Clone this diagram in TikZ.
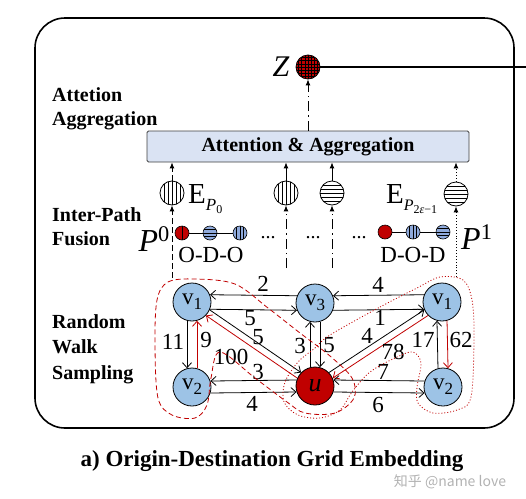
\documentclass[tikz,border=0pt]{standalone}
\usepackage{fontspec}
\setmainfont{Liberation Serif}
\newfontfamily\cjk{Noto Sans CJK SC}
\usetikzlibrary{arrows.meta,calc}
\definecolor{nodeblue}{HTML}{9DC3E6}
\definecolor{pathblue}{HTML}{8FAADC}
\definecolor{darkred}{HTML}{C00000}
\definecolor{boxfill}{HTML}{DAE3F3}
\definecolor{boxline}{HTML}{404040}
\newcommand{\fs}[1]{\fontsize{#1}{#1}\selectfont}
\tikzset{
  gnode/.style={circle,draw=black,line width=0.8pt,fill=nodeblue,minimum size=38pt,inner sep=0pt,font=\fs{23}},
  unode/.style={gnode,fill=darkred},
  vstripes/.style={path picture={\foreach \k in {-2,...,2}{\draw[line width=0.6pt] ([xshift=\k*4pt]path picture bounding box.north) -- ([xshift=\k*4pt]path picture bounding box.south);}}},
  hstripes/.style={path picture={\foreach \k in {-2,...,2}{\draw[line width=0.6pt] ([yshift=\k*4pt]path picture bounding box.west) -- ([yshift=\k*4pt]path picture bounding box.east);}}},
  svstripes/.style={path picture={\foreach \k in {-1,0,1}{\draw[line width=0.5pt] ([xshift=\k*3.5pt]path picture bounding box.north) -- ([xshift=\k*3.5pt]path picture bounding box.south);}}},
  shstripes/.style={path picture={\foreach \k in {-1,0,1}{\draw[line width=0.5pt] ([yshift=\k*3.5pt]path picture bounding box.west) -- ([yshift=\k*3.5pt]path picture bounding box.east);}}},
  gridfill/.style={path picture={\foreach \k in {-3,...,3}{\draw[line width=0.4pt] ([xshift=\k*3.2pt]path picture bounding box.north) -- ([xshift=\k*3.2pt]path picture bounding box.south); \draw[line width=0.4pt] ([yshift=\k*3.2pt]path picture bounding box.west) -- ([yshift=\k*3.2pt]path picture bounding box.east);}}},
  emb/.style={circle,draw=black,line width=0.8pt,fill=white,minimum size=24pt,inner sep=0pt},
  pnode/.style={circle,draw=black,line width=0.6pt,minimum size=14pt,inner sep=0pt},
  edge/.style={line width=0.8pt,-{Straight Barb[length=5pt,width=9pt]}},
  redge/.style={edge,draw=darkred},
  elabel/.style={font=\fs{23},inner sep=0pt},
  upar/.style={line width=0.9pt,-{Latex[length=6pt,width=5pt]}},
  sidelabel/.style={anchor=base west,inner sep=0pt,font=\bfseries\fs{20}},
  dashdot/.style={dash pattern=on 10pt off 4pt on 1.5pt off 4pt},
  longdash/.style={dash pattern=on 6pt off 3pt},
  fine dots/.style={dash pattern=on 1pt off 2pt},
}
\begin{document}
\begin{tikzpicture}[x=1pt,y=-1pt]
\useasboundingbox (0,0) rectangle (526,498);
% outer frame
\draw[line width=1.6pt,rounded corners=30pt] (35,18) rectangle (514,428);

% side labels
\node[sidelabel] (l1) at (52,101.5) {Attetion};
\node[sidelabel] (l2) at (52,125) {Aggregation};
\node[sidelabel] (l3) at (52,221.5) {Inter-Path};
\node[sidelabel] (l4) at (52,245.5) {Fusion};
\node[sidelabel] (l5) at (52,328.5) {Random};
\node[sidelabel] (l6) at (52,353.5) {Walk};
\node[sidelabel] (l7) at (52,379.5) {Sampling};

% attention box
\node[draw=boxline,fill=boxfill,line width=0.8pt,rounded corners=1.5pt,minimum width=322pt,minimum height=31pt,inner sep=0pt,font=\bfseries\fs{20}] (att) at (308,146.5) {Attention \& Aggregation};

% Z output
\node[circle,draw=black,line width=0.8pt,fill=darkred,minimum size=24pt,inner sep=0pt,gridfill] (z) at (308,67) {};
\node[font=\itshape\fs{30},inner sep=0pt] (zl) at (281,67) {Z};
\coordinate (zend) at (526,67);
\draw[line width=1.5pt] (z.east) -- (zend);
\draw[upar,dashdot] (att.north -| z) -- (z.south);

% embedding circles
\node[emb,vstripes] (e1) at (172,193) {};
\node[emb,vstripes] (e2) at (286,193) {};
\node[emb,hstripes] (e3) at (332,193) {};
\node[emb,hstripes] (e4) at (456,194) {};
\node[anchor=base west,inner sep=0pt,font=\fs{29}] (el1) at (188,203) {E\raisebox{-7pt}{\fs{17}\textit{P}\raisebox{-3pt}{\fs{12}0}}};
\node[anchor=base west,inner sep=0pt,font=\fs{29}] (el2) at (386,203) {E\raisebox{-7pt}{\fs{16}\textit{P}\raisebox{-3pt}{\fs{12}2\textit{ε}−1}}};

% arrows into attention box
\draw[upar,longdash] (e1.north) -- (e1.north |- att.south);
\draw[upar] (e2.north) -- (e2.north |- att.south);
\draw[upar] (e3.north) -- (e3.north |- att.south);
\draw[upar,dotted] (e4.north) -- (e4.north |- att.south);

% arrows into embedding circles
\coordinate (s1) at (172,278);
\coordinate (s2) at (286,268);
\coordinate (s3) at (332,268);
\coordinate (s4) at (456,277);
\draw[upar,longdash] (s1) -- (e1.south);
\draw[upar,dashdot] (s2) -- (e2.south);
\draw[upar,dashdot] (s3) -- (e3.south);
\draw[upar,dotted] (s4) -- (e4.south);

% path P0
\node[pnode,fill=darkred,path picture={\draw[line width=0.5pt] (path picture bounding box.north) -- (path picture bounding box.south);}] (a1) at (182,233) {};
\node[pnode,fill=pathblue,shstripes] (a2) at (210,233) {};
\node[pnode,fill=pathblue,svstripes] (a3) at (240,233) {};
\draw[line width=0.8pt] (a1) -- (a2) -- (a3);
\node[font=\fs{23},inner sep=0pt] (ta) at (211,255) {O-D-O};
\node[anchor=base east,inner sep=0pt,font=\fs{32}] (p0) at (170,251) {\textit{P}\textsuperscript{0}};

% path P1
\node[pnode,fill=darkred] (b1) at (385,232) {};
\node[pnode,fill=pathblue,svstripes] (b2) at (413,232) {};
\node[pnode,fill=pathblue,shstripes] (b3) at (443,232) {};
\draw[line width=0.8pt] (b1) -- (b2) -- (b3);
\node[font=\fs{23},inner sep=0pt] (tb) at (413,255) {D-O-D};
\node[anchor=base west,inner sep=0pt,font=\fs{32}] (p1) at (461,249) {\textit{P}\textsuperscript{1}};

% dots
\node[font=\fs{20},inner sep=0pt] (d1) at (268,238) {...};
\node[font=\fs{20},inner sep=0pt] (d2) at (313,238) {...};
\node[font=\fs{20},inner sep=0pt] (d3) at (359,238) {...};

% graph nodes
\node[gnode] (v1) at (192,302) {v\raisebox{-5pt}{\fs{17}1}};
\node[gnode] (v3) at (315,303) {v\raisebox{-5pt}{\fs{17}3}};
\node[gnode] (v1r) at (442,302) {v\raisebox{-5pt}{\fs{17}1}};
\node[gnode] (v2) at (192,387) {v\raisebox{-5pt}{\fs{17}2}};
\node[unode,font=\itshape\fs{26}] (u) at (315,386) {u};
\node[gnode] (v2r) at (443,387) {v\raisebox{-5pt}{\fs{17}2}};

% edges
\draw[edge] (v3.158) -- (v1.22);
\draw[edge] (v1.-22) -- (v3.202);
\draw[edge] (v1r.158) -- (v3.22);
\draw[edge] (v3.-22) -- (v1r.202);
\draw[edge] (v1.255) -- (v2.105);
\draw[redge] (v2.75) -- (v1.285);
\draw[edge] (u.105) -- (v3.255);
\draw[edge] (v3.285) -- (u.75);
\draw[edge] (v2r.105) -- (v1r.255);
\draw[redge] (v1r.285) -- (v2r.75);
\draw[edge] (v1.-24) -- (u.136);
\draw[redge] (u.156) -- (v1.-44);
\draw[edge] (u.44) -- (v1r.204);
\draw[redge] (v1r.224) -- (u.24);
\draw[edge] (u.162) -- (v2.18);
\draw[edge] (v2.-18) -- (u.198);
\draw[edge] (v2r.162) -- (u.18);
\draw[edge] (u.-18) -- (v2r.198);

% edge labels
\node[elabel] (n1) at (263,284) {2};
\node[elabel] (n2) at (250,318) {5};
\node[elabel] (n3) at (378,285) {4};
\node[elabel] (n4) at (380,318) {1};
\node[elabel] (n5) at (173,342) {11};
\node[elabel] (n6) at (206,340) {9};
\node[elabel] (n7) at (231,357) {100};
\node[elabel] (n8) at (258,337) {5};
\node[elabel] (n9) at (300,346) {3};
\node[elabel] (n10) at (329,345) {5};
\node[elabel] (n11) at (367,336) {4};
\node[elabel] (n12) at (393,352) {78};
\node[elabel] (n13) at (258,372) {3};
\node[elabel] (n14) at (252,404) {4};
\node[elabel] (n15) at (383,372) {7};
\node[elabel] (n16) at (378,405) {6};
\node[elabel] (n17) at (423,340) {17};
\node[elabel] (n18) at (461,340) {62};

% sampling regions
\draw[darkred,line width=0.8pt,dash pattern=on 5pt off 3pt] plot[smooth cycle,tension=0.55] coordinates {(157,300) (168,282) (195,279) (235,284) (268,308) (300,333) (330,356) (352,378) (354,398) (335,413) (305,413) (287,402) (255,378) (220,352) (211,378) (207,405) (195,418) (172,415) (158,398) (155,345)};
\draw[darkred,line width=0.8pt,fine dots] plot[smooth cycle,tension=0.55] coordinates {(330,335) (380,307) (417,288) (440,277) (463,280) (472,300) (474,337) (471,397) (457,410) (433,413) (418,403) (417,387) (421,363) (413,352) (397,357) (370,372) (352,392) (340,410) (320,418) (298,415) (284,402) (285,382) (298,362) (315,348)};

% caption
\node[font=\bfseries\fs{23},inner sep=0pt,anchor=base] (cap) at (272,466) {a) Origin-Destination Grid Embedding};
\node[font=\cjk\fs{14},text=black!30,inner sep=0pt,anchor=base] (wm) at (450,486) {知乎 @name love};
\end{tikzpicture}
\end{document}
